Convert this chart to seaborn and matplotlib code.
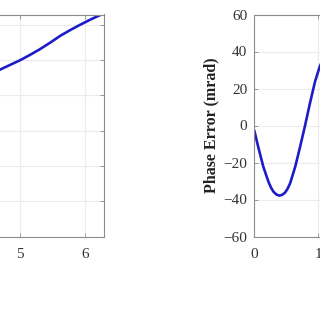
import numpy as np
import pandas as pd
import matplotlib
matplotlib.use("Agg")
import matplotlib.pyplot as plt
import seaborn as sns

# Left panel: output phase (rad) vs input phase (rad), visible portion
left_x = [4.50, 4.70, 5.01, 5.16, 5.31, 5.47, 5.62, 5.77, 5.92, 6.08, 6.23, 6.283]
left_y = [4.52, 4.72, 4.99, 5.14, 5.30, 5.49, 5.68, 5.84, 5.99, 6.14, 6.27, 6.30]

# Right panel: phase error (mrad) vs phase (rad), visible portion
err_x = [0.0, 0.06, 0.14, 0.22, 0.26, 0.30, 0.345, 0.39, 0.435, 0.48, 0.52, 0.56, 0.64, 0.71, 0.79, 0.87, 0.95, 1.02, 1.10]
err_y = [-2.7, -11.4, -22.2, -30.3, -33.5, -35.8, -37.3, -37.9, -37.5, -36.3, -34.2, -31.2, -22.2, -12.3, -0.5, 12.1, 23.9, 31.6, 38.0]

left_xticks = [0, 1, 2, 3, 4, 5, 6]
left_xticklabels = ["", "", "", "", "", "5", "6"]
left_yticks = [0, 1, 2, 3, 4, 5, 6]
right_xticks = [0, 1, 2, 3, 4, 5, 6]
right_xticklabels = ["0", "1", "", "", "", "", ""]
right_yticks = [-60, -40, -20, 0, 20, 40, 60]
ylabel_right = "Phase Error (mrad)"

sns.set_theme(style="whitegrid")
plt.rcParams['font.family'] = ['Liberation Serif', 'DejaVu Serif']

W = H = 320
fig = plt.figure(figsize=(3.2, 3.2), dpi=100)
fig.patch.set_facecolor("white")

line_color = "#1c1cc8"
spine_color = "#8c8c8c"
grid_color = "#ebebeb"
text_color = "#333333"

def style(ax, xlim, ylim, xt, yt):
    ax.set_xlim(*xlim)
    ax.set_ylim(*ylim)
    ax.set_xticks(xt)
    ax.set_yticks(yt)
    ax.set_facecolor("white")
    for s in ax.spines.values():
        s.set_visible(True)
        s.set_color(spine_color)
        s.set_linewidth(0.8)
    ax.grid(True, color=grid_color, linewidth=0.8)
    ax.tick_params(direction="in", length=3, width=0.6, color=spine_color,
                   top=True, right=True, bottom=True, left=True,
                   labelsize=11, labelcolor=text_color)
    ax.tick_params(axis="x", pad=8)
    ax.tick_params(axis="y", pad=5)
    ax.set_xlabel("")
    ax.set_ylabel("")

# left axes (mostly outside the figure)
unit_l = 65.7
left_px = 19.5 - 5 * unit_l
ax1 = fig.add_axes([left_px / W, (W - 236.5) / H, 2 * np.pi * unit_l / W, 222 / H])
df1 = pd.DataFrame({"x": left_x, "y": left_y})
sns.lineplot(data=df1, x="x", y="y", ax=ax1, color=line_color, linewidth=1.9)
style(ax1, (0, 2 * np.pi), (0, 2 * np.pi), left_xticks, left_yticks)
ax1.set_xticklabels(left_xticklabels)
ax1.set_yticklabels([""] * len(left_yticks))

# right axes
unit_r = 64.0
ax2 = fig.add_axes([254.3 / W, (W - 236.5) / H, 2 * np.pi * unit_r / W, 222 / H])
df2 = pd.DataFrame({"x": err_x, "y": err_y})
sns.lineplot(data=df2, x="x", y="y", ax=ax2, color=line_color, linewidth=1.9)
style(ax2, (0, 2 * np.pi), (-60, 60), right_xticks, right_yticks)
ax2.set_xticklabels(right_xticklabels)
ax2.set_yticklabels([str(v).replace("-", "\u2212") for v in right_yticks])
ax2.set_ylabel(ylabel_right, fontsize=11.5, fontweight="bold", color="#222222", labelpad=3)

fig.savefig("out.png", dpi=100, facecolor="white")
